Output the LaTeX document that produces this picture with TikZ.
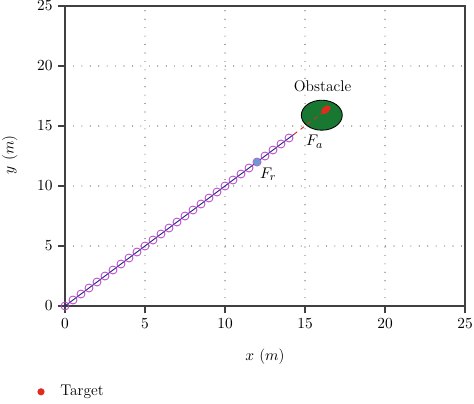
\documentclass[tikz,border=0pt]{standalone}
\usetikzlibrary{arrows.meta}
\usepackage{amsmath}
\definecolor{gridgray}{gray}{0.3}
\definecolor{axisgray}{gray}{0.25}
\definecolor{obsgreen}{RGB}{24,120,50}
\definecolor{pathpurple}{RGB}{185,70,205}
\definecolor{pathblue}{RGB}{40,40,140}
\definecolor{tgtred}{RGB}{222,45,30}
\definecolor{frblue}{RGB}{105,155,210}

\begin{document}
\begin{tikzpicture}[x=0.4cm,y=0.3cm,font=\fontsize{11}{13}\selectfont]
    \useasboundingbox (-4.0625,-8.083) rectangle (25.5625,25.5);
    % grid
    \foreach \v in {5,10,15,20} {
        \draw[gridgray,line width=0.8pt,line cap=round,dash pattern=on 0pt off 6pt] (\v,0) -- (\v,25);
        \draw[gridgray,line width=0.8pt,line cap=round,dash pattern=on 0pt off 6pt] (0,\v) -- (25,\v);
    }
    % frame and ticks
    \draw[axisgray,line width=0.8pt] (0,0) rectangle (25,25);
    \foreach \v in {0,5,...,25} {
        \draw[axisgray,line width=0.8pt] (\v,0) -- (\v,-0.6) node[below,black] (xt\v) {$\v$};
        \draw[axisgray,line width=0.8pt] (0,\v) -- (-0.45,\v) node[left,black] (yt\v) {$\v$};
    }
    \node (xl) at (12.5,-4.2) {$x$ ($m$)};
    \node[rotate=90] (yl) at (-3.45,12.6) {$y$ ($m$)};
    % obstacle
    \draw[black,fill=obsgreen,line width=0.6pt] (16.05,15.9) circle[x radius=1.28,y radius=1.25];
    \node (obs) at (16.1,18.3) {Obstacle};
    % path
    \draw[pathblue,line width=0.7pt] (0,0) -- (14.3,14.3);
    \foreach \i in {0,...,28}
        \draw[pathpurple,line width=0.6pt] (\i*0.5,\i*0.5) circle[radius=0.1cm];
    \draw[tgtred,dashed,line width=0.7pt] (14.3,14.3) -- (16.3,16.3);
    \fill[tgtred,rotate around={40:(16.3,16.35)}] (16.3,16.35) ellipse[x radius=0.35,y radius=0.28];
    \fill[frblue] (12,12) circle[radius=0.09cm];
    \node (fr) at (12.7,11.0) {$F_r$};
    \node (fa) at (15.6,13.7) {$F_a$};
    % legend
    \fill[tgtred] (-1.5,-7.15) circle[radius=0.09cm];
    \node[right] (tgt) at (-0.6,-7.15) {Target};
\end{tikzpicture}
\end{document}
